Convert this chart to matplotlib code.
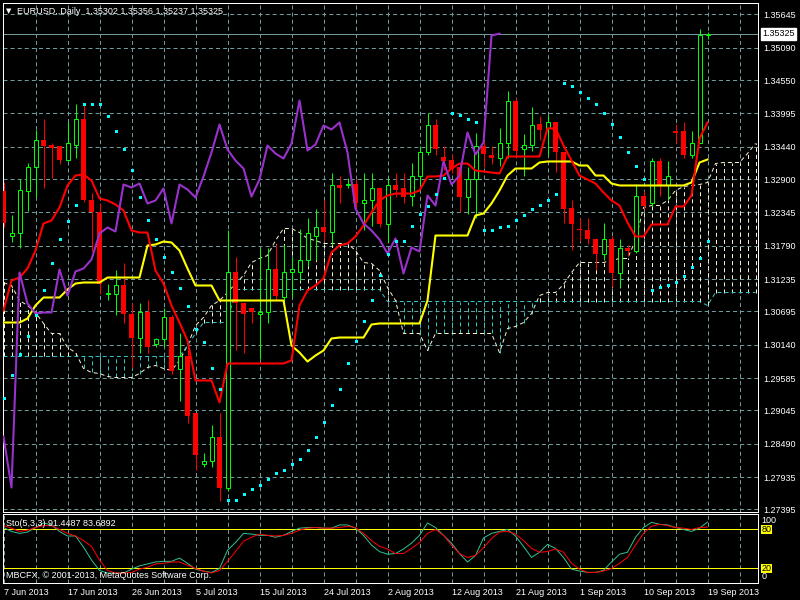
import numpy as np
import matplotlib
matplotlib.use("Agg")
import matplotlib.pyplot as plt
from matplotlib import transforms

plt.rcParams['font.family'] = ['Liberation Sans', 'DejaVu Sans']
plt.rcParams['font.size'] = 6.5
plt.rcParams['lines.scale_dashes'] = False

# daily candles, 7 Jun 2013 .. 19 Sep 2013 (MBCFX feed, Sunday bars included)
opens = [1.32711, 1.31961, 1.32011, 1.32711, 1.33095, 1.33545, 1.33478, 1.33445, 1.33228, 1.33478,
         1.33895, 1.32561, 1.32361, 1.30978, 1.30978, 1.31128, 1.30661, 1.30261, 1.30678, 1.30145,
         1.30228, 1.30611, 1.29728, 1.29945, 1.28995, 1.28145, 1.28211, 1.28611, 1.27761, 1.31345,
         1.30828, 1.30761, 1.30661, 1.30678, 1.31395, 1.30928, 1.31361, 1.31361, 1.31545, 1.31961,
         1.32095, 1.32028, 1.32811, 1.32795, 1.32828, 1.32511, 1.32545, 1.32745, 1.32161, 1.32811,
         1.32745, 1.32628, 1.32945, 1.33345, 1.33795, 1.33278, 1.33228, 1.33095, 1.32611, 1.32895,
         1.33461, 1.33311, 1.33261, 1.33495, 1.34211, 1.33395, 1.33478, 1.33828, 1.33745, 1.33845,
         1.33345, 1.32428, 1.32078, 1.32061, 1.31895, 1.31661, 1.31911, 1.31328, 1.31745, 1.31695,
         1.32628, 1.32495, 1.33195, 1.32811, 1.33711, 1.33695, 1.33311, 1.33495, 1.35302]
highs = [1.32845, 1.32295, 1.32911, 1.33178, 1.33728, 1.33895, 1.33511, 1.33461, 1.33845, 1.34161,
         1.34161, 1.32678, 1.32495, 1.31161, 1.31378, 1.31495, 1.30828, 1.30828, 1.30878, 1.30261,
         1.30745, 1.30628, 1.30328, 1.30045, 1.28995, 1.28328, 1.28811, 1.28995, 1.32061, 1.31595,
         1.30828, 1.30761, 1.31745, 1.31745, 1.31828, 1.31795, 1.31595, 1.32078, 1.32245, 1.32411,
         1.32561, 1.32995, 1.32961, 1.32928, 1.32911, 1.32995, 1.32995, 1.32778, 1.32928, 1.32995,
         1.32995, 1.33178, 1.33445, 1.33995, 1.33895, 1.33445, 1.33328, 1.33161, 1.33111, 1.33678,
         1.33545, 1.33445, 1.33745, 1.34378, 1.34245, 1.33661, 1.34095, 1.33945, 1.33978, 1.33861,
         1.33345, 1.32545, 1.32261, 1.32261, 1.31928, 1.32178, 1.31961, 1.31895, 1.31811, 1.32828,
         1.32711, 1.33245, 1.33245, 1.33211, 1.33828, 1.33845, 1.33695, 1.35411, 1.35356]
lows = [1.32111, 1.31845, 1.31761, 1.32378, 1.32595, 1.32761, 1.32928, 1.33161, 1.33195, 1.33245,
        1.32528, 1.31711, 1.30978, 1.30878, 1.30628, 1.30495, 1.29761, 1.29995, 1.29995, 1.30095,
        1.30095, 1.29661, 1.29211, 1.28828, 1.28045, 1.28095, 1.28095, 1.27528, 1.27711, 1.30045,
        1.29995, 1.30511, 1.29911, 1.30495, 1.30878, 1.30761, 1.30928, 1.31211, 1.31461, 1.31545,
        1.31878, 1.31795, 1.32511, 1.32745, 1.32378, 1.32045, 1.32128, 1.32111, 1.31845, 1.32595,
        1.32495, 1.32461, 1.32828, 1.33295, 1.33311, 1.33045, 1.33011, 1.32345, 1.32328, 1.32245,
        1.33095, 1.33161, 1.33128, 1.33261, 1.33278, 1.32961, 1.33378, 1.33545, 1.33295, 1.33028,
        1.32178, 1.31728, 1.31878, 1.31828, 1.31378, 1.31545, 1.31095, 1.31095, 1.31628, 1.31678,
        1.32411, 1.32461, 1.32628, 1.32545, 1.33511, 1.33245, 1.33261, 1.33495, 1.35237]
closes = [1.32178, 1.32011, 1.32728, 1.33111, 1.33545, 1.33461, 1.33428, 1.33228, 1.33511, 1.33911,
          1.32545, 1.32345, 1.31161, 1.30995, 1.31128, 1.30661, 1.30261, 1.30678, 1.30095, 1.30228,
          1.30611, 1.29711, 1.29945, 1.28961, 1.28295, 1.28211, 1.28611, 1.27761, 1.31345, 1.30828,
          1.30661, 1.30678, 1.30678, 1.31395, 1.30961, 1.31361, 1.31411, 1.31561, 1.31995, 1.32095,
          1.32028, 1.32811, 1.32761, 1.32828, 1.32495, 1.32545, 1.32745, 1.32161, 1.32811, 1.32728,
          1.32595, 1.32945, 1.33345, 1.33811, 1.33395, 1.33211, 1.33078, 1.32611, 1.32895, 1.33461,
          1.33328, 1.33245, 1.33495, 1.34211, 1.33378, 1.33478, 1.33795, 1.33728, 1.33845, 1.33345,
          1.32411, 1.32161, 1.32045, 1.31895, 1.31661, 1.31911, 1.31328, 1.31761, 1.31695, 1.32628,
          1.32461, 1.33195, 1.32811, 1.32961, 1.33678, 1.33311, 1.33511, 1.35295, 1.35325]

# ichimoku (9, 26, 52)
tenkan = [1.30711, 1.31211, 1.31261, 1.31411, 1.31711, 1.32161, 1.32211, 1.32428, 1.32795, 1.32961,
          1.32978, 1.32878, 1.32578, 1.32545, 1.32478, 1.32378, 1.32045, 1.32011, 1.32011, 1.31378,
          1.31161, 1.30795, 1.30511, 1.30211, 1.29545, 1.29545, 1.29545, 1.29178, 1.29828, 1.29828,
          1.29828, 1.29828, 1.29828, 1.29828, 1.29828, 1.29828, 1.29878, 1.30795, 1.31045, 1.31128,
          1.31245, 1.31678, 1.31795, 1.31828, 1.31945, 1.32128, 1.32345, 1.32545, 1.32628, 1.32661,
          1.32661, 1.32661, 1.32711, 1.32945, 1.32945, 1.32961, 1.33078, 1.33161, 1.33161, 1.33045,
          1.33028, 1.33011, 1.32995, 1.33278, 1.33278, 1.33278, 1.33278, 1.33278, 1.33745, 1.33745,
          1.33461, 1.33211, 1.32961, 1.32895, 1.32828, 1.32678, 1.32545, 1.32461, 1.32178, 1.31945,
          1.31945, 1.32145, 1.32145, 1.32145, 1.32445, 1.32445, 1.32628, 1.33578, 1.33845]
kijun = [1.30511, 1.30511, 1.30511, 1.30578, 1.30795, 1.30928, 1.30928, 1.30928, 1.31061, 1.31161,
         1.31178, 1.31178, 1.31178, 1.31261, 1.31261, 1.31261, 1.31261, 1.31261, 1.31795, 1.31811,
         1.31861, 1.31845, 1.31711, 1.31411, 1.31128, 1.31128, 1.31128, 1.30878, 1.30878, 1.30878,
         1.30878, 1.30878, 1.30878, 1.30878, 1.30878, 1.30878, 1.30128, 1.30011, 1.29861, 1.29961,
         1.30045, 1.30245, 1.30261, 1.30261, 1.30261, 1.30261, 1.30478, 1.30495, 1.30495, 1.30495,
         1.30495, 1.30495, 1.30495, 1.30878, 1.31961, 1.31961, 1.31961, 1.31961, 1.31961, 1.32295,
         1.32328, 1.32495, 1.32711, 1.32961, 1.33078, 1.33078, 1.33078, 1.33178, 1.33195, 1.33195,
         1.33195, 1.33195, 1.33128, 1.33128, 1.32961, 1.32961, 1.32828, 1.32795, 1.32795, 1.32795,
         1.32795, 1.32795, 1.32795, 1.32795, 1.32795, 1.32795, 1.32845, 1.33178, 1.33228]
# senkou spans run 26 bars past the last candle
span_a = [1.31178, 1.31128, 1.30878, 1.30795, 1.30678, 1.30495, 1.30328, 1.30328, 1.30095, 1.30011,
          1.29745, 1.29678, 1.29661, 1.29611, 1.29595, 1.29595, 1.29595, 1.29661, 1.29761, 1.29795,
          1.29745, 1.29711, 1.29878, 1.30128, 1.30461, 1.30595, 1.30795, 1.30878, 1.31011, 1.31161,
          1.31295, 1.31511, 1.31578, 1.31628, 1.31878, 1.32078, 1.32078, 1.32011, 1.31911, 1.31878,
          1.31828, 1.31828, 1.31828, 1.31828, 1.31711, 1.31511, 1.31495, 1.31378, 1.31095, 1.30878,
          1.30328, 1.30328, 1.30328, 1.30045, 1.30328, 1.30328, 1.30328, 1.30328, 1.30328, 1.30328,
          1.30328, 1.30328, 1.30011, 1.30411, 1.30445, 1.30511, 1.30661, 1.30961, 1.31011, 1.31011,
          1.31145, 1.31345, 1.31511, 1.31511, 1.31511, 1.31511, 1.31545, 1.31578, 1.31578, 1.31878,
          1.32428, 1.32461, 1.32461, 1.32545, 1.32711, 1.32778, 1.32795, 1.32811, 1.32845, 1.33161,
          1.33178, 1.33178, 1.33178, 1.33328, 1.33495]
span_b = [1.29945, 1.29945, 1.29945, 1.29945, 1.29945, 1.29945, 1.29945, 1.29945, 1.29945, 1.29945,
          1.29945, 1.29945, 1.29945, 1.29945, 1.29945, 1.29945, 1.29945, 1.29945, 1.29945, 1.29945,
          1.29945, 1.29945, 1.29945, 1.30128, 1.30328, 1.30511, 1.30511, 1.30511, 1.30511, 1.31061,
          1.31061, 1.31061, 1.31061, 1.31061, 1.31061, 1.31061, 1.31061, 1.31061, 1.31061, 1.31061,
          1.31061, 1.31061, 1.31061, 1.31061, 1.31061, 1.31061, 1.31061, 1.31061, 1.30861, 1.30861,
          1.30861, 1.30861, 1.30861, 1.30861, 1.30861, 1.30861, 1.30861, 1.30861, 1.30861, 1.30861,
          1.30861, 1.30861, 1.30861, 1.30861, 1.30861, 1.30861, 1.30861, 1.30861, 1.30861, 1.30861,
          1.30861, 1.30861, 1.30861, 1.30861, 1.30861, 1.30861, 1.30861, 1.30861, 1.30861, 1.30861,
          1.30861, 1.30861, 1.30861, 1.30861, 1.30861, 1.30861, 1.30861, 1.30861, 1.30795, 1.31011,
          1.31011, 1.31011, 1.31011, 1.31011, 1.31011]

# parabolic SAR
sar = [1.29245, 1.29628, 1.29978, 1.30278, 1.30628, 1.31061, 1.31511, 1.31895, 1.32211, 1.32478,
       1.34161, 1.34161, 1.34161, 1.33961, 1.33711, 1.33411, 1.33061, 1.32611, 1.32228, 1.31911,
       1.31611, 1.31361, 1.31078, 1.30778, 1.30395, 1.30178, 1.29745, 1.29411, 1.27545, 1.27545,
       1.27645, 1.27728, 1.27811, 1.27911, 1.27995, 1.28061, 1.28145, 1.28228, 1.28378, 1.28595,
       1.28861, 1.29128, 1.29395, 1.29828, 1.30211, 1.30528, 1.30878, 1.31295, 1.31645, 1.31878,
       1.31878, 1.32128, 1.32328, 1.32461, 1.32645, 1.32928, 1.33995, 1.33978, 1.33911, 1.33845,
       1.32061, 1.32061, 1.32095, 1.32128, 1.32228, 1.32311, 1.32395, 1.32478, 1.32561, 1.32645,
       1.34511, 1.34461, 1.34361, 1.34261, 1.34145, 1.33995, 1.33828, 1.33611, 1.33361, 1.33128,
       1.32911, 1.31045, 1.31095, 1.31128, 1.31178, 1.31278, 1.31428, 1.31578, 1.31878]

# stochastic (5,3,3)
sto_main = [83, 77, 74, 76, 83, 90, 87, 77, 70, 70,
            53, 33, 17, 13, 13, 13, 19, 24, 27, 30,
            31, 31, 36, 28, 19, 16, 14, 20, 48, 60,
            74, 73, 71, 71, 68, 71, 77, 82, 83, 83,
            82, 82, 87, 87, 82, 71, 56, 46, 42, 43,
            50, 59, 71, 90, 83, 71, 59, 43, 30, 40,
            67, 74, 77, 80, 70, 54, 37, 45, 57, 51,
            37, 19, 16, 14, 14, 17, 30, 42, 45, 68,
            83, 91, 88, 87, 83, 80, 77, 82, 91.45]
sto_signal = [86, 82, 77, 79, 83, 86, 86, 80, 74, 70,
              63, 54, 33, 17, 13, 13, 14, 19, 22, 27,
              28, 30, 30, 25, 20, 16, 13, 17, 31, 46,
              62, 68, 73, 71, 70, 71, 74, 79, 82, 83,
              82, 82, 83, 85, 83, 74, 63, 54, 50, 43,
              43, 51, 60, 74, 80, 71, 56, 43, 37, 40,
              52, 66, 76, 77, 73, 63, 51, 45, 46, 50,
              45, 28, 19, 14, 14, 16, 20, 28, 37, 56,
              74, 85, 88, 86, 83, 82, 80, 83, 83.69]

price_levels = [1.35645, 1.35090, 1.34550, 1.33995, 1.33440, 1.32900, 1.32345, 1.31790,
                1.31235, 1.30695, 1.30140, 1.29585, 1.29045, 1.28490, 1.27935, 1.27395]
date_pos = [0, 8, 16, 24, 32, 40, 48, 56, 64, 72, 80, 88]
date_labels = ['7 Jun 2013', '17 Jun 2013', '26 Jun 2013', '5 Jul 2013', '15 Jul 2013',
               '24 Jul 2013', '2 Aug 2013', '12 Aug 2013', '21 Aug 2013', '1 Sep 2013',
               '10 Sep 2013', '19 Sep 2013']
last_price = 1.35325
chikou_shift = 26

# colours
BG = '#000000'
GRID = '#6e9a9a'
BULL = '#00ff00'
BEAR = '#ff0000'
CLOUD_A = '#f4f0d0'
CLOUD_B = '#33c4c4'
DASH = (0, (2.9, 2.2))
PX = 0.72  # one pixel in points at 100 dpi

W, H = 800, 600


def px_box(x0, y0, x1, y1):
    # pixel rectangle -> figure fraction [left, bottom, width, height]
    return [x0 / W, 1 - y1 / H, (x1 - x0) / W, (y1 - y0) / H]


fig = plt.figure(figsize=(8, 6), dpi=100, facecolor=BG)
ax = fig.add_axes(px_box(2.5, 2.5, 757.5, 511.5))
sub = fig.add_axes(px_box(2.5, 513.5, 757.5, 582.5))

for a in (ax, sub):
    a.set_facecolor(BG)
    for s in a.spines.values():
        s.set_color('white')
        s.set_linewidth(PX)
    # one bar every 8 px, bar centres on pixel centres
    a.set_xlim(-0.125, 94.25)

x = np.arange(len(closes))
xc = np.arange(len(span_a))
o, h, l, c = map(np.array, (opens, highs, lows, closes))
sa, sb = np.array(span_a), np.array(span_b)

# --- main panel ---
ax.set_ylim(1.273613, 1.358447)
ax.yaxis.tick_right()
ax.set_yticks(price_levels)
ax.set_yticklabels([f'{p:.5f}' for p in price_levels])
ax.set_xticks(np.arange(4, 95, 4))
ax.tick_params(axis='x', length=0, labelbottom=False)
ax.tick_params(axis='y', length=0, pad=4, colors='white', labelsize=6.5)
ax.grid(True, color=GRID, lw=PX, linestyle=DASH)
ax.set_axisbelow(True)

# kumo: dotted histogram between the spans plus the span lines
a_up = sa >= sb
ax.vlines(xc[a_up], sb[a_up], sa[a_up], color=CLOUD_A, lw=PX, linestyles=[DASH], zorder=1)
ax.vlines(xc[~a_up], sa[~a_up], sb[~a_up], color=CLOUD_B, lw=PX, linestyles=[DASH], zorder=1)
ax.plot(xc, sa, color=CLOUD_A, lw=PX, linestyle=DASH, zorder=1)
ax.plot(xc, sb, color=CLOUD_B, lw=PX, linestyle=DASH, zorder=1)

ax.axhline(last_price, color=GRID, lw=PX, zorder=1)

# candles: hollow lime for up days, solid red for down days
up = c >= o
body_lo = np.minimum(o, c)
body_h = np.maximum(np.abs(c - o), 0.00017)
ax.vlines(x[up], l[up], h[up], color=BULL, lw=PX, zorder=2)
ax.vlines(x[~up], l[~up], h[~up], color=BEAR, lw=PX, zorder=2)
ax.bar(x[up], body_h[up], 0.5, bottom=body_lo[up], facecolor=BG, edgecolor=BULL,
       linewidth=PX, zorder=3)
ax.bar(x[~up], body_h[~up], 0.625, bottom=body_lo[~up], color=BEAR, linewidth=0, zorder=3)

# lines
ax.plot(x, kijun, color='#ffff00', lw=1.5, zorder=4)
ax.plot(x, tenkan, color='#ff0000', lw=1.5, zorder=4)
ax.plot(x[chikou_shift:] - chikou_shift, c[chikou_shift:], color='#9932cc', lw=1.5, zorder=4)
ax.plot(x, sar, linestyle='none', marker='s', ms=2.16, mew=0, color='#00ffff', zorder=5)

# current price tag
tr_main = transforms.blended_transform_factory(ax.transAxes, ax.transData)
ax.text(1.006, last_price, f'{last_price:.5f}', transform=tr_main, va='center', ha='left',
        color='black', fontsize=6.5,
        bbox=dict(boxstyle='square,pad=0.15', facecolor='white', edgecolor='white'))

# --- stochastic sub-window ---
sub.set_ylim(-1.54, 104.6)
sub.set_yticks([])
sub.set_xticks(date_pos)
sub.set_xticklabels(date_labels, ha='left')
sub.set_xticks(np.arange(4, 95, 8), minor=True)
sub.tick_params(axis='x', which='both', length=0, pad=4, colors='white', labelsize=6.5)
sub.grid(True, which='both', axis='x', color=GRID, lw=PX, linestyle=DASH)
sub.set_axisbelow(True)
sub.axhline(80, color='#ffff00', lw=PX)
sub.axhline(20, color='#ffff00', lw=PX)
sub.plot(x, sto_main, color='#2fbf8f', lw=PX)
sub.plot(x, sto_signal, color='#ff0000', lw=PX)

tr_sub = transforms.blended_transform_factory(sub.transAxes, sub.transData)
sub.text(1.005, 100, '100', transform=tr_sub, va='top', ha='left', color='white', fontsize=6.5)
sub.text(1.005, 0, '0', transform=tr_sub, va='bottom', ha='left', color='white', fontsize=6.5)
for lev in (80, 20):
    sub.text(1.005, lev, str(lev), transform=tr_sub, va='center', ha='left', color='black',
             fontsize=6.5, bbox=dict(boxstyle='square,pad=0.05', facecolor='#ffff00', edgecolor='none'))

# captions
fig.text(6 / W, 1 - 11 / H, '\u25bc', color='white', fontsize=5, va='center', ha='left',
         family=['DejaVu Sans'])
fig.text(17 / W, 1 - 11 / H, 'EURUSD.,Daily  1.35302 1.35356 1.35237 1.35325',
         color='white', va='center', ha='left')
fig.text(6 / W, 1 - 524 / H, 'Sto(5,3,3) 91.4487 83.6892', color='white', va='center', ha='left')
fig.text(6 / W, 1 - 575 / H, 'MBCFX, \u00a9 2001-2013, MetaQuotes Software Corp.',
         color='white', va='center', ha='left')

fig.savefig('out.png', dpi=100, facecolor=BG)
